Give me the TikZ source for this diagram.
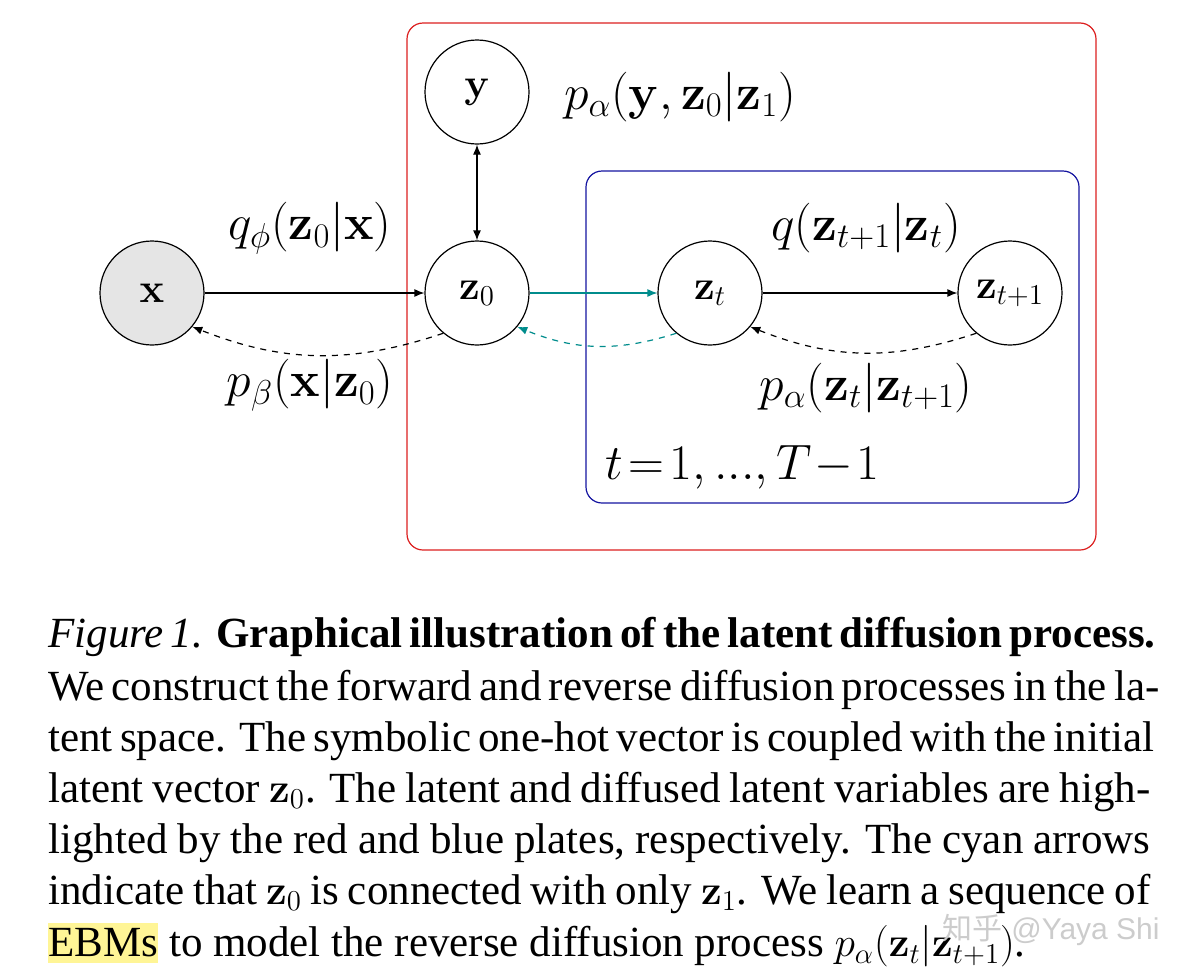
\documentclass[tikz,border=0pt]{standalone}
\usepackage[no-math]{fontspec}
\usepackage{amsmath}
\newfontfamily\capfont{Liberation Serif}
\newfontfamily\cjkfont{Noto Sans CJK SC}
\newfontfamily\wmfont{Liberation Sans}
\usetikzlibrary{arrows.meta}
\definecolor{plred}{RGB}{220,30,30}
\definecolor{plblue}{RGB}{20,20,160}
\definecolor{cyanar}{RGB}{0,140,140}
\definecolor{hl}{RGB}{255,245,150}
\begin{document}
\begin{tikzpicture}[x=0.5pt,y=-0.5pt,
  var/.style={circle,draw,line width=0.6pt,minimum size=52pt,inner sep=0pt,font=\fontsize{22}{24}\selectfont},
  lab/.style={font=\fontsize{24}{26}\selectfont},
  arr/.style={line width=0.6pt,-{Latex[length=5pt,width=4pt]}},
  capline/.style={anchor=west,inner sep=0pt,font=\capfont\fontsize{21.5}{24}\selectfont}]
\useasboundingbox (0,0) rectangle (1190,980);
\draw[plred,line width=0.6pt,rounded corners=8pt] (407,23) rectangle (1096,550);
\draw[plblue,line width=0.6pt,rounded corners=8pt] (586,171) rectangle (1079,503);
\node[var,fill=gray!20] (x) at (152,293) {$\mathbf{x}$};
\node[var] (z0) at (477,293) {$\mathbf{z}_0$};
\node[var] (y) at (477,92) {$\mathbf{y}$};
\node[var] (zt) at (710,293) {$\mathbf{z}_t$};
\node[var] (zt1) at (1010,293) {$\mathbf{z}_{t+1}$};
\draw[arr] (x) -- (z0);
\draw[arr,dashed] (z0.-130) to[bend left=20] (x.-40);
\draw[line width=0.6pt,{Latex[length=5pt,width=4pt]}-{Latex[length=5pt,width=4pt]}] (y) -- (z0);
\draw[arr,cyanar] (z0) -- (zt);
\draw[arr,cyanar,dashed] (zt.-130) to[bend left=20] (z0.-40);
\draw[arr] (zt) -- (zt1);
\draw[arr,dashed] (zt1.-130) to[bend left=20] (zt.-40);
\node[lab] (l1) at (310,228) {$q_\phi(\mathbf{z}_0|\mathbf{x})$};
\node[lab] (l2) at (310,385) {$p_\beta(\mathbf{x}|\mathbf{z}_0)$};
\node[lab] (l3) at (680,97) {$p_\alpha(\mathbf{y},\mathbf{z}_0|\mathbf{z}_1)$};
\node[lab] (l4) at (866,228) {$q(\mathbf{z}_{t+1}|\mathbf{z}_t)$};
\node[lab] (l5) at (866,388) {$p_\alpha(\mathbf{z}_t|\mathbf{z}_{t+1})$};
\node[lab,anchor=west] (l6) at (598,467) {$t\!=\!1,...,T\!-\!1$};
\node[capline] (c1) at (48,637) {\makebox[551pt][s]{\textit{Figure 1.} \textbf{Graphical illustration of the latent diffusion process.}}};
\node[capline] (c2) at (48,690) {\makebox[551pt][s]{We construct the forward and reverse diffusion processes in the la-}};
\node[capline] (c3) at (48,741) {\makebox[551pt][s]{tent space. The symbolic one-hot vector is coupled with the initial}};
\node[capline] (c4) at (48,792) {\makebox[551pt][s]{latent vector $\mathbf{z}_0$. The latent and diffused latent variables are high-}};
\node[capline] (c5) at (48,843) {\makebox[551pt][s]{lighted by the red and blue plates, respectively. The cyan arrows}};
\node[capline] (c6) at (48,894) {\makebox[551pt][s]{indicate that $\mathbf{z}_0$ is connected with only $\mathbf{z}_1$. We learn a sequence of}};
\node[capline] (c7) at (48,945) {\colorbox{hl}{\hspace{-\fboxsep}EBMs\hspace{-\fboxsep}} to model the reverse diffusion process $p_\alpha(\mathbf{z}_t|\mathbf{z}_{t+1})$.};
\node[anchor=east,inner sep=0pt,text=gray!40,font=\fontsize{15}{16}\selectfont] (wm) at (1160,930) {{\cjkfont 知乎} {\wmfont @Yaya Shi}};
\end{tikzpicture}
\end{document}
